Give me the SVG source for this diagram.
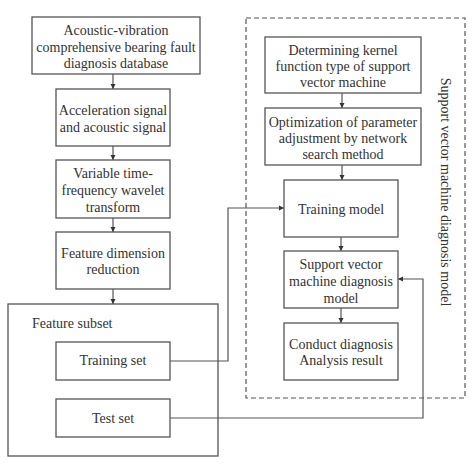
<svg xmlns="http://www.w3.org/2000/svg" width="474" height="474" viewBox="0 0 474 474">
<style>
.box{fill:#fff;stroke:#555;stroke-width:1.3}
.t{font-family:"Liberation Serif","Times New Roman",serif;font-size:14px;fill:#333;text-anchor:middle;dominant-baseline:central}
.c{fill:none;stroke:#555;stroke-width:1.2}
</style>
<defs>
<marker id="ah" markerWidth="6" markerHeight="6" refX="5" refY="3" orient="auto" markerUnits="userSpaceOnUse">
<path d="M0,0.5 L5,3 L0,5.5 Z" fill="#333"/>
</marker>
</defs>
<rect width="474" height="474" fill="#fff"/>
<g id="group-feature-subset">
<rect class="box" x="8" y="304" width="210" height="152"/>
<text class="t" x="32" y="323" style="text-anchor:start">Feature subset</text>
</g>
<g id="group-svm">
<rect x="246" y="18" width="219" height="380" fill="none" stroke="#555" stroke-width="1.2" stroke-dasharray="5,3"/>
<text class="t" transform="translate(445,192) rotate(90)">Support vector machine diagnosis model</text>
</g>
<g id="connectors">
<line class="c" x1="113" y1="74" x2="113" y2="89" marker-end="url(#ah)"/>
<line class="c" x1="113" y1="146" x2="113" y2="160" marker-end="url(#ah)"/>
<line class="c" x1="113" y1="218" x2="113" y2="232" marker-end="url(#ah)"/>
<line class="c" x1="113" y1="289" x2="113" y2="304" marker-end="url(#ah)"/>
<line class="c" x1="342" y1="93" x2="342" y2="108" marker-end="url(#ah)"/>
<line class="c" x1="342" y1="165" x2="342" y2="180" marker-end="url(#ah)"/>
<line class="c" x1="341" y1="237" x2="341" y2="251" marker-end="url(#ah)"/>
<line class="c" x1="341" y1="308" x2="341" y2="323" marker-end="url(#ah)"/>
<polyline class="c" points="170,361 228,361 228,208 284,208" marker-end="url(#ah)"/>
<polyline class="c" points="170,418 423,418 423,279 398,279" marker-end="url(#ah)"/>
</g>
<g id="n1">
<rect class="box" x="32" y="17" width="168" height="57"/>
<text class="t" x="116" y="30">Acoustic-vibration</text>
<text class="t" x="116" y="47">comprehensive bearing fault</text>
<text class="t" x="116" y="63">diagnosis database</text>
</g>
<g id="n2">
<rect class="box" x="56" y="89" width="114" height="57"/>
<text class="t" x="113" y="110">Acceleration signal</text>
<text class="t" x="113" y="127">and acoustic signal</text>
</g>
<g id="n3">
<rect class="box" x="56" y="160" width="114" height="58"/>
<text class="t" x="113" y="173">Variable time-</text>
<text class="t" x="113" y="190">frequency wavelet</text>
<text class="t" x="113" y="207">transform</text>
</g>
<g id="n4">
<rect class="box" x="56" y="232" width="114" height="57"/>
<text class="t" x="113" y="253">Feature dimension</text>
<text class="t" x="113" y="269">reduction</text>
</g>
<g id="n5">
<rect class="box" x="56" y="342" width="114" height="38"/>
<text class="t" x="113" y="360">Training set</text>
</g>
<g id="n6">
<rect class="box" x="56" y="399" width="114" height="38"/>
<text class="t" x="113" y="418">Test set</text>
</g>
<g id="n7">
<rect class="box" x="265" y="37" width="156" height="56"/>
<text class="t" x="343" y="50">Determining kernel</text>
<text class="t" x="343" y="66">function type of support</text>
<text class="t" x="343" y="82">vector machine</text>
</g>
<g id="n8">
<rect class="box" x="265" y="108" width="156" height="57"/>
<text class="t" x="343" y="122">Optimization of parameter</text>
<text class="t" x="343" y="138">adjustment by network</text>
<text class="t" x="343" y="154">search method</text>
</g>
<g id="n9">
<rect class="box" x="284" y="180" width="114" height="57"/>
<text class="t" x="341" y="209">Training model</text>
</g>
<g id="n10">
<rect class="box" x="284" y="251" width="114" height="57"/>
<text class="t" x="341" y="264">Support vector</text>
<text class="t" x="341" y="281">machine diagnosis</text>
<text class="t" x="341" y="298">model</text>
</g>
<g id="n11">
<rect class="box" x="284" y="323" width="114" height="57"/>
<text class="t" x="341" y="344">Conduct diagnosis</text>
<text class="t" x="341" y="360">Analysis result</text>
</g>
</svg>
